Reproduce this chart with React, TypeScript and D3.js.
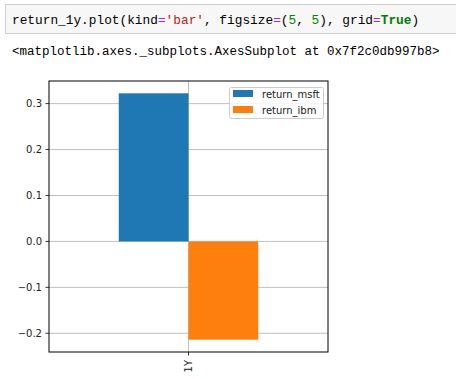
import React from "react";
import * as d3 from "d3";

const categories = ["1Y"];
const seriesNames = ["return_msft", "return_ibm"];
const returnMsft = [0.3224];
const returnIbm = [-0.2139];
const yTicks = [-0.2, -0.1, 0.0, 0.1, 0.2, 0.3];
const colors = ["#1f77b4", "#ff7f0e"];

const W = 456;
const H = 379;
const plot = { left: 49, right: 328, top: 81, bottom: 352 };

export default function App() {
  const series = [returnMsft, returnIbm];
  const all = [0, ...returnMsft, ...returnIbm];
  const lo = d3.min(all) as number;
  const hi = d3.max(all) as number;
  const m = (hi - lo) * 0.05;
  const y = d3.scaleLinear().domain([lo - m, hi + m]).range([plot.bottom, plot.top]);
  const x = d3
    .scaleLinear()
    .domain([-0.5, categories.length - 0.5])
    .range([plot.left, plot.right]);
  const barW = 0.5 / seriesNames.length;
  const fmt = (v: number) => (v < 0 ? "\u2212" : "") + Math.abs(v).toFixed(1);

  const mono = "'Liberation Mono', 'DejaVu Sans Mono', monospace";
  const sans = "'DejaVu Sans', sans-serif";

  return (
    <svg
      width={W}
      height={H}
      style={{ position: "absolute", left: 0, top: 0, background: "#fff" }}
    >
      {/* code cell */}
      <rect x={5.5} y={4.5} width={460} height={29} fill="#f7f7f7" stroke="#cfcfcf" />
      <text x={12} y={24} fontFamily={mono} fontSize={12.8} fill="#000" xmlSpace="preserve">
        <tspan>return_1y.plot(kind</tspan>
        <tspan fill="#aa22ff">=</tspan>
        <tspan fill="#ba2121">'bar'</tspan>
        <tspan>, figsize</tspan>
        <tspan fill="#aa22ff">=</tspan>
        <tspan>(</tspan>
        <tspan fill="#008800">5</tspan>
        <tspan>, </tspan>
        <tspan fill="#008800">5</tspan>
        <tspan>), grid</tspan>
        <tspan fill="#aa22ff">=</tspan>
        <tspan fill="#008000" fontWeight="bold">True</tspan>
        <tspan>)</tspan>
      </text>
      <text x={12} y={55} fontFamily={mono} fontSize={12.5} fill="#000">
        {"<matplotlib.axes._subplots.AxesSubplot at 0x7f2c0db997b8>"}
      </text>

      {/* grid */}
      {yTicks.map((t) => (
        <line
          key={"gy" + t}
          x1={plot.left}
          x2={plot.right}
          y1={y(t)}
          y2={y(t)}
          stroke="#b0b0b0"
          strokeWidth={0.8}
        />
      ))}
      {categories.map((c, i) => (
        <line
          key={"gx" + c}
          x1={x(i)}
          x2={x(i)}
          y1={plot.top}
          y2={plot.bottom}
          stroke="#b0b0b0"
          strokeWidth={0.8}
        />
      ))}

      {/* bars */}
      {series.map((vals, s) =>
        vals.map((v, i) => {
          const x0 = x(i - 0.25 + s * barW);
          const x1 = x(i - 0.25 + (s + 1) * barW);
          const y0 = y(Math.max(0, v));
          const y1 = y(Math.min(0, v));
          return (
            <rect
              key={s + "-" + i}
              x={x0}
              y={y0}
              width={x1 - x0}
              height={y1 - y0}
              fill={colors[s]}
            />
          );
        })
      )}

      {/* spines */}
      <rect
        x={plot.left}
        y={plot.top}
        width={plot.right - plot.left}
        height={plot.bottom - plot.top}
        fill="none"
        stroke="#000"
        strokeWidth={1}
      />

      {/* y ticks */}
      {yTicks.map((t) => (
        <g key={"ty" + t}>
          <line x1={plot.left - 3.5} x2={plot.left} y1={y(t)} y2={y(t)} stroke="#000" strokeWidth={0.8} />
          <text
            x={plot.left - 7}
            y={y(t)}
            textAnchor="end"
            dominantBaseline="central"
            fontFamily={sans}
            fontSize={10}
            fill="#222"
          >
            {fmt(t)}
          </text>
        </g>
      ))}

      {/* x ticks */}
      {categories.map((c, i) => (
        <g key={"tx" + c}>
          <line x1={x(i)} x2={x(i)} y1={plot.bottom} y2={plot.bottom + 3.5} stroke="#000" strokeWidth={0.8} />
          <text
            transform={`translate(${x(i)},${plot.bottom + 8}) rotate(-90)`}
            textAnchor="end"
            dominantBaseline="central"
            fontFamily={sans}
            fontSize={10}
            fill="#222"
          >
            {c}
          </text>
        </g>
      ))}

      {/* legend */}
      <rect x={229.5} y={87.5} width={94} height={31} rx={2} fill="#fff" fillOpacity={0.8} stroke="#cccccc" />
      {seriesNames.map((n, s) => (
        <g key={"lg" + n}>
          <rect x={233} y={90 + s * 16} width={20} height={7} fill={colors[s]} />
          <text
            x={262}
            y={94 + s * 16}
            dominantBaseline="central"
            fontFamily={sans}
            fontSize={10}
            fill="#222"
          >
            {n}
          </text>
        </g>
      ))}
    </svg>
  );
}
